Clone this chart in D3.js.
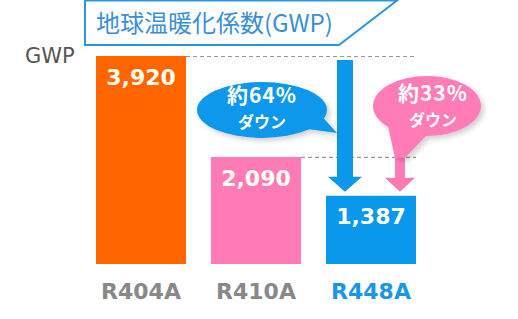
<!DOCTYPE html>
<html>
<head>
<meta charset="utf-8">
<script src="https://cdn.jsdelivr.net/npm/d3@7"></script>
<style>
  body { margin: 0; background: #fff; }
  svg { display: block; }
</style>
</head>
<body>
<svg width="518" height="319"></svg>
<script>
// data
var categories = ["R404A", "R410A", "R448A"];
var gwpValues = [3920, 2090, 1387];
var valueLabels = ["3,920", "2,090", "1,387"];
var barColors = ["#ff6600", "#ff7bb6", "#0a98ec"];
var labelColors = ["#888888", "#888888", "#1a96e6"];
var title = "地球温暖化係数(GWP)";
var reductions = [{ pct: "約64%", from: 0 }, { pct: "約33%", from: 1 }];

(function () {
    var svg = d3.select("svg");
    var cjk = "'Noto Sans CJK JP', sans-serif";
    var latin = "'DejaVu Sans', sans-serif";

    var x = d3.scaleBand().domain(categories).range([96, 416]).paddingInner(0.217).paddingOuter(0);
    var y = d3.scaleLinear().domain([150, 3920]).range([264, 56]);
    var base = y.range()[0];

    var defs = svg.append("defs");
    var f = defs.append("filter").attr("id", "shadow").attr("x", "-20%").attr("y", "-20%").attr("width", "150%").attr("height", "160%");
    f.append("feDropShadow").attr("dx", 3).attr("dy", 3).attr("stdDeviation", 2.5)
        .attr("flood-color", "#000").attr("flood-opacity", 0.18);

    // title box
    svg.append("path")
        .attr("d", "M85,0.5 L397,0.5 L339,45 L85,45 Z")
        .attr("fill", "#fff").attr("stroke", "#2b96e0").attr("stroke-width", 2);
    svg.append("text")
        .attr("x", 96).attr("y", 24).attr("dy", "0.35em")
        .attr("font-family", cjk).attr("font-size", 24).attr("fill", "#3a8fd6")
        .text(title);

    svg.append("text")
        .attr("x", 25).attr("y", 56).attr("dy", "0.35em")
        .attr("font-family", latin).attr("font-size", 21).attr("fill", "#555")
        .text("GWP");

    // reference dashed lines
    var last = categories[categories.length - 1];
    svg.selectAll(".ref")
        .data([0, 1])
        .enter().append("line")
        .attr("class", "ref")
        .attr("x1", function (i) { return x(categories[i]) + x.bandwidth(); })
        .attr("x2", x(last) + x.bandwidth())
        .attr("y1", function (i) { return y(gwpValues[i]) + 0.5; })
        .attr("y2", function (i) { return y(gwpValues[i]) + 0.5; })
        .attr("stroke", "#999").attr("stroke-width", 1.2).attr("stroke-dasharray", "4,3");

    // bars
    svg.selectAll(".bar")
        .data(gwpValues)
        .enter().append("rect")
        .attr("class", "bar")
        .attr("x", function (d, i) { return x(categories[i]); })
        .attr("y", function (d) { return y(d); })
        .attr("width", x.bandwidth())
        .attr("height", function (d) { return base - y(d); })
        .attr("fill", function (d, i) { return barColors[i]; });

    svg.selectAll(".val")
        .data(gwpValues)
        .enter().append("text")
        .attr("class", "val")
        .attr("x", function (d, i) { return x(categories[i]) + x.bandwidth() / 2; })
        .attr("y", function (d) { return y(d) + 21; })
        .attr("dy", "0.35em")
        .attr("text-anchor", "middle")
        .attr("font-family", latin).attr("font-weight", "bold").attr("font-size", 22)
        .attr("fill", "#fffdf0")
        .text(function (d, i) { return valueLabels[i]; });

    svg.selectAll(".cat")
        .data(categories)
        .enter().append("text")
        .attr("class", "cat")
        .attr("x", function (d) { return x(d) + x.bandwidth() / 2; })
        .attr("y", 291).attr("dy", "0.35em")
        .attr("text-anchor", "middle")
        .attr("font-family", latin).attr("font-weight", "bold").attr("font-size", 22)
        .attr("fill", function (d, i) { return labelColors[i]; })
        .text(function (d) { return d; });

    var target = y(gwpValues[2]);
    var bx = x(last);

    // blue arrow (from R404A level)
    var ax = bx + 19, top1 = y(gwpValues[0]) + 4, tip = target - 4;
    svg.append("path")
        .attr("d", "M" + (ax - 8) + "," + top1 + " L" + (ax + 8) + "," + top1 +
            " L" + (ax + 8) + "," + (tip - 15) + " L" + (ax + 17) + "," + (tip - 15) +
            " L" + ax + "," + tip + " L" + (ax - 17) + "," + (tip - 15) +
            " L" + (ax - 8) + "," + (tip - 15) + " Z")
        .attr("fill", barColors[2]);

    // pink arrow (from R410A level)
    var px = bx + 74, top2 = y(gwpValues[1]);
    svg.append("path")
        .attr("d", "M" + (px - 5) + "," + top2 + " L" + (px + 5) + "," + top2 +
            " L" + (px + 5) + "," + (tip - 14) + " L" + (px + 15) + "," + (tip - 14) +
            " L" + px + "," + tip + " L" + (px - 15) + "," + (tip - 14) +
            " L" + (px - 5) + "," + (tip - 14) + " Z")
        .attr("fill", barColors[1]);

    // speech bubbles
    var blue = svg.append("g").attr("filter", "url(#shadow)");
    blue.append("ellipse").attr("cx", 262).attr("cy", 110).attr("rx", 65).attr("ry", 28).attr("fill", barColors[2]);
    blue.append("path").attr("d", "M300,128 L318,112 L" + (ax - 8) + ",133 Z").attr("fill", barColors[2]);

    var pink = svg.append("g").attr("filter", "url(#shadow)");
    pink.append("ellipse").attr("cx", 427).attr("cy", 106).attr("rx", 54).attr("ry", 30).attr("fill", barColors[1]);
    pink.append("path").attr("d", "M388,126 L428,134 L" + (px + 5) + "," + (top2 + 1) + " L" + (px - 5) + "," + (top2 + 1) + " Z").attr("fill", barColors[1]);

    var bubbleCx = [262, 433];
    var bubbleCy = [96, 94];
    reductions.forEach(function (r, i) {
        svg.append("text")
            .attr("x", bubbleCx[i]).attr("y", bubbleCy[i]).attr("dy", "0.35em")
            .attr("text-anchor", "middle")
            .attr("font-family", cjk).attr("font-weight", "bold").attr("font-size", 21)
            .attr("letter-spacing", 1)
            .attr("fill", "#fff").text(r.pct);
        svg.append("text")
            .attr("x", bubbleCx[i]).attr("y", bubbleCy[i] + 26).attr("dy", "0.35em")
            .attr("text-anchor", "middle")
            .attr("font-family", cjk).attr("font-weight", "bold").attr("font-size", 16)
            .attr("fill", "#fff").text("ダウン");
    });
}());
</script>
</body>
</html>
